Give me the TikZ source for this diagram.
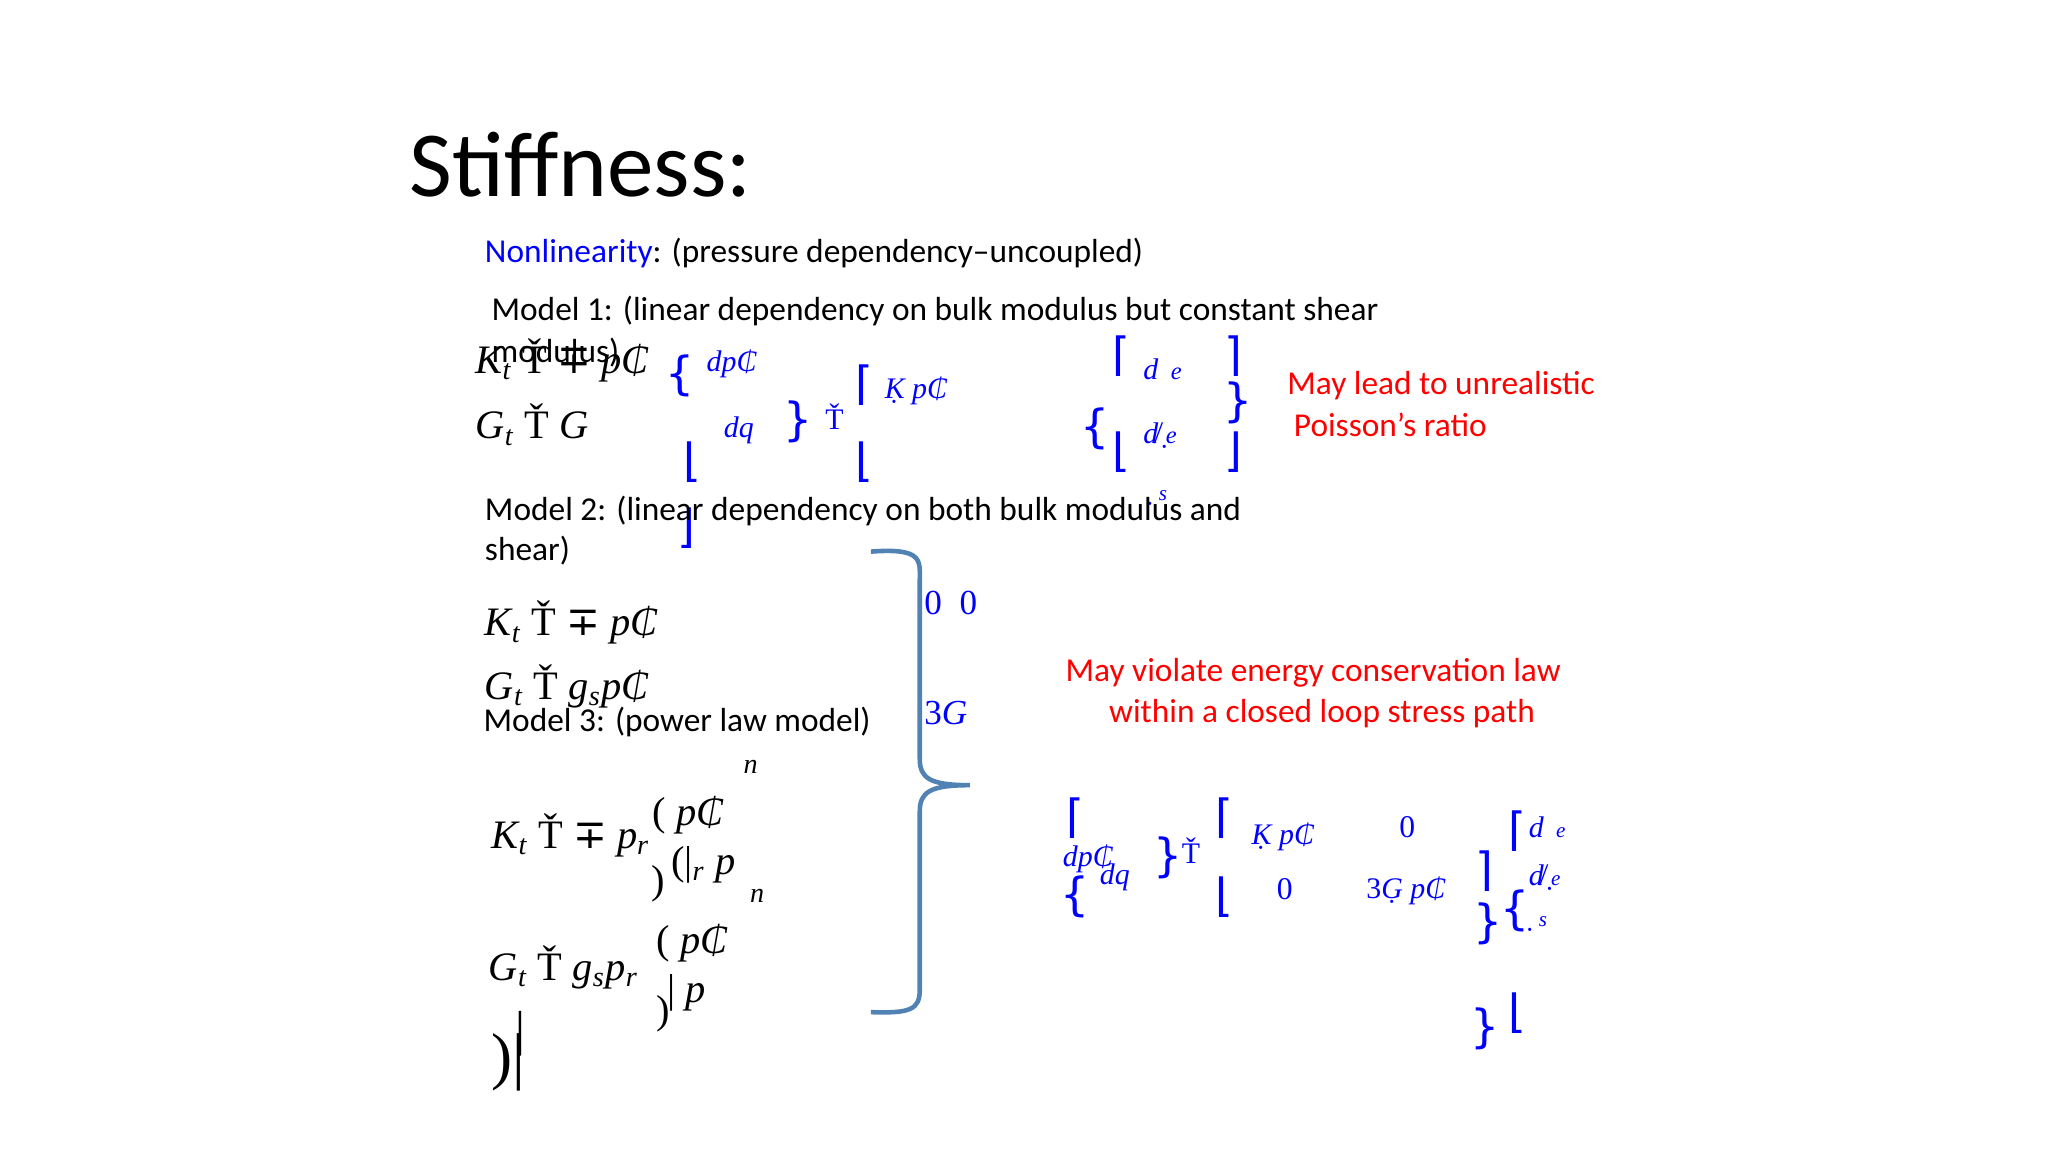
\documentclass[tikz,border=0pt]{standalone}
\usepackage{fontspec}
\setmainfont{Carlito}
\newfontfamily\mf{Liberation Serif}
\newfontfamily\djv{DejaVu Sans}
\newcommand{\mpm}{{\djv\upshape ∓}}
\begin{document}
\begin{tikzpicture}[x=0.0132cm,y=-0.0132cm,
  tx/.style={anchor=west,inner sep=0,font=\fontsize{9.5}{11}\selectfont},
  eq/.style={anchor=west,inner sep=0,font=\mf\itshape\fontsize{11.5}{13}\selectfont},
  beq/.style={eq,text=blue,font=\mf\itshape\fontsize{8.5}{10}\selectfont},
  bb/.style={anchor=center,inner sep=0,text=blue,font=\djv\fontsize{13}{13}\selectfont},
  rd/.style={tx,text=red}]
\useasboundingbox (0,0) rectangle (1552,873);
\node[anchor=west,inner sep=0,font=\fontsize{26.5}{28}\selectfont] (title) at (310,125) {Stiffness:};
\node[tx] (nl) at (367,192) {\textcolor{blue}{Nonlinearity}: (pressure dependency--uncoupled)};
\node[tx] (m1) at (372,236) {Model 1: (linear dependency on bulk modulus but constant shear};
\node[tx] (m1b) at (372,267) {modulus)};
\node[eq] (k1) at (360,273) {K\textsubscript{t} {\upshape Ť \mpm} p₵};
\node[eq] (g1) at (360,322) {G\textsubscript{t} {\upshape Ť} G};
\node[bb] (b1) at (515,285) {\{};
\node[beq] (dp) at (535,276) {dp₵};
\node[beq] (dq) at (548,326) {dq};
\node[bb] (b2) at (525,350) {⌊};
\node[bb] (b3) at (520,400) {⌋};
\node[bb] (b4) at (605,320) {\}};
\node[beq] (eqs) at (625,316) {\upshape Ť};
\node[bb] (b5) at (655,292) {⌈};
\node[beq] (kp) at (670,296) {Ḳ  p₵};
\node[bb] (b6) at (655,350) {⌊};
\node[bb] (b7) at (850,270) {⌈};
\node[bb] (b8) at (830,325) {\{};
\node[bb] (b9) at (850,343) {⌊};
\node[beq] (de) at (866,280) {d \,{\fontsize{7}{7}\selectfont e}};
\node[beq] (dg) at (866,330) {d̸ ̣{\fontsize{7}{7}\selectfont e}};
\node[beq] (ds) at (872,377) {̣ {\fontsize{6}{6}\selectfont s}};
\node[bb] (b10) at (935,270) {⌉};
\node[bb] (b11) at (938,305) {\}};
\node[bb] (b12) at (935,343) {⌋};
\node[rd] (r1) at (975,292) {May lead to unrealistic};
\node[rd] (r2) at (980,322) {Poisson’s ratio};
\node[tx] (m2) at (367,387) {Model 2: (linear dependency on both bulk modulus and};
\node[tx] (m2b) at (367,417) {shear)};
\node[eq] (k2) at (367,472) {K\textsubscript{t} {\upshape Ť \mpm} p₵};
\node[eq] (g2) at (367,520) {G\textsubscript{t} {\upshape Ť} g\textsubscript{s}p₵};
\node[tx] (m3) at (366,547) {Model 3: (power law model)};
\draw[color={rgb,255:red,80;green,130;blue,180},line width=1.3pt]
  (660,418) .. controls (700,415) and (697,425) .. (697,440) -- (697,575)
  .. controls (697,590) and (705,595) .. (735,595)
  .. controls (705,595) and (697,600) .. (697,615) -- (697,750)
  .. controls (697,765) and (690,768) .. (660,767);
\node[beq,font=\mf\fontsize{10}{11}\selectfont] (zz) at (700,457) {0\,\,\,0};
\node[beq,font=\mf\itshape\fontsize{10}{11}\selectfont] (tg) at (700,540) {{\upshape 3}G};
\node[rd] (r3) at (807,510) {May violate energy conservation law};
\node[rd] (r4) at (840,541) {within a closed loop stress path};
\node[eq,font=\mf\itshape\fontsize{8}{8}\selectfont] (n1) at (563,581) {n};
\node[eq] (k3) at (372,633) {K\textsubscript{t} {\upshape Ť \mpm} p\textsubscript{r}};
\node[eq] (f1) at (494,618) {{\upshape (} p₵};
\node[eq] (f1b) at (508,655) {{\upshape (|}\textsubscript{r} p};
\node[eq] (f1c) at (493,670) {\upshape )};
\node[eq,font=\mf\itshape\fontsize{8}{8}\selectfont] (n2) at (568,679) {n};
\node[eq] (g3) at (370,733) {G\textsubscript{t} {\upshape Ť} g\textsubscript{s}p\textsubscript{r}};
\node[eq] (f2) at (497,715) {{\upshape (} p₵};
\node[eq] (f2b) at (505,752) {{\upshape |} p};
\node[eq] (f2c) at (497,768) {\upshape )};
\node[eq,font=\mf\fontsize{18}{18}\selectfont] (bt) at (372,805) {)|};
\node[eq,font=\mf\fontsize{14}{14}\selectfont] (bt2) at (390,783) {|};
\node[bb] (c1) at (815,620) {⌈};
\node[beq] (dp2) at (805,651) {dp₵};
\node[beq] (dq2) at (833,665) {dq};
\node[bb] (c2) at (815,680) {\{};
\node[bb] (c3) at (885,650) {\}};
\node[beq] (eq2) at (895,645) {\upshape Ť};
\node[bb] (c4) at (928,620) {⌈};
\node[beq] (kp2) at (948,634) {Ḳ  p₵};
\node[beq,font=\mf\fontsize{9}{10}\selectfont] (z1) at (1060,627) {0};
\node[bb] (c5) at (928,680) {⌊};
\node[beq,font=\mf\fontsize{9}{10}\selectfont] (z2) at (967,674) {0};
\node[beq] (gp2) at (1035,675) {{\upshape 3}G̣  p₵};
\node[bb] (c6) at (1125,660) {⌉};
\node[bb] (c7) at (1128,700) {\}};
\node[bb] (c8) at (1150,630) {⌈};
\node[beq] (de2) at (1158,627) {d \,{\fontsize{6}{6}\selectfont e}};
\node[beq] (dg2) at (1158,665) {d̸ ̣{\fontsize{6}{6}\selectfont e}};
\node[bb] (c9) at (1148,690) {\{};
\node[beq] (ds2) at (1160,700) {̣ {\fontsize{6}{6}\selectfont s}};
\node[bb] (c10) at (1125,780) {\}};
\node[bb] (c11) at (1150,768) {⌊};
\end{tikzpicture}
\end{document}
